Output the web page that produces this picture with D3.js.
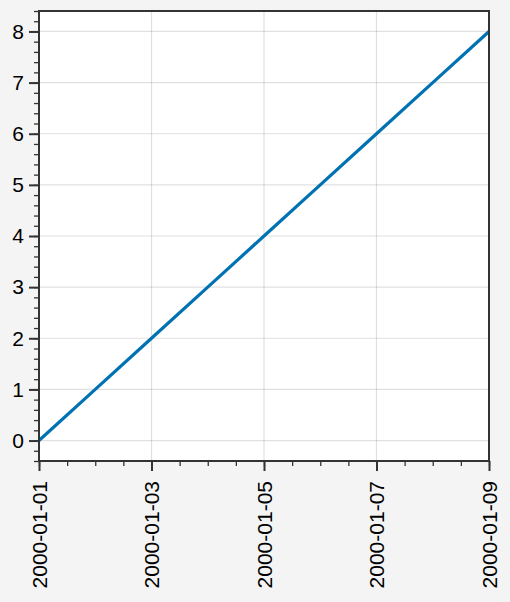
<!DOCTYPE html>
<html>
<head>
<meta charset="utf-8">
<script src="https://cdn.jsdelivr.net/npm/d3@7"></script>
<style>
  body { margin: 0; background: #f4f4f4; }
  #vis svg { display: block; }
</style>
</head>
<body>
<div id="vis"></div>
<script>
const FRAME_WIDTH = 510;
const FRAME_HEIGHT = 602;
const PLOT = {left: 39, right: 489, top: 11, bottom: 461};

// data
const dates = ["2000-01-01", "2000-01-02", "2000-01-03", "2000-01-04", "2000-01-05",
               "2000-01-06", "2000-01-07", "2000-01-08", "2000-01-09"];
const values = [0, 1, 2, 3, 4, 5, 6, 7, 8];
const yTicks = [0, 1, 2, 3, 4, 5, 6, 7, 8];
const xTickLabels = ["2000-01-01", "2000-01-03", "2000-01-05", "2000-01-07", "2000-01-09"];

const parse = d3.utcParse("%Y-%m-%d");
const fmt = d3.utcFormat("%Y-%m-%d");
const points = dates.map((d, i) => ({date: parse(d), value: values[i]}));

const FRAME = d3.select("#vis")
                .append("svg")
                  .attr("width", FRAME_WIDTH)
                  .attr("height", FRAME_HEIGHT)
                  .style("background", "#f4f4f4");

const X_SCALE = d3.scaleUtc()
                  .domain(d3.extent(points, d => d.date))
                  .range([PLOT.left, PLOT.right]);

const Y_SCALE = d3.scaleLinear()
                  .domain([-0.4, 8.4])
                  .range([PLOT.bottom, PLOT.top]);

// white plot area
FRAME.append("rect")
  .attr("x", PLOT.left).attr("y", PLOT.top)
  .attr("width", PLOT.right - PLOT.left)
  .attr("height", PLOT.bottom - PLOT.top)
  .attr("fill", "#ffffff");

const xMajor = xTickLabels.map(parse);
const xMinor = d3.utcHour.every(12).range(X_SCALE.domain()[0], d3.utcHour.offset(X_SCALE.domain()[1], 1));
const yMinor = d3.range(-4, 85, 2).map(v => v / 10);

// grid
const grid = FRAME.append("g").attr("stroke", "#000").attr("stroke-opacity", 0.12).attr("stroke-width", 1.2);
grid.selectAll(".gx").data(xMajor).enter().append("line")
  .attr("x1", d => X_SCALE(d)).attr("x2", d => X_SCALE(d))
  .attr("y1", PLOT.top).attr("y2", PLOT.bottom);
grid.selectAll(".gy").data(yTicks).enter().append("line")
  .attr("x1", PLOT.left).attr("x2", PLOT.right)
  .attr("y1", d => Y_SCALE(d)).attr("y2", d => Y_SCALE(d));

// line
FRAME.append("path")
  .datum(points)
  .attr("fill", "none")
  .attr("stroke", "#0072b2")
  .attr("stroke-width", 3.2)
  .attr("d", d3.line().x(d => X_SCALE(d.date)).y(d => Y_SCALE(d.value)));

// minor ticks
FRAME.append("g")
  .attr("transform", "translate(0," + PLOT.bottom + ")")
  .call(d3.axisBottom(X_SCALE).tickValues(xMinor).tickSize(5).tickFormat(""))
  .call(g => g.select(".domain").remove())
  .selectAll("line").attr("stroke", "#333").attr("stroke-width", 1.3);

FRAME.append("g")
  .attr("transform", "translate(" + PLOT.left + ",0)")
  .call(d3.axisLeft(Y_SCALE).tickValues(yMinor).tickSize(5).tickFormat(""))
  .call(g => g.select(".domain").remove())
  .selectAll("line").attr("stroke", "#333").attr("stroke-width", 1.3);

// major ticks
const xAxis = FRAME.append("g")
  .attr("transform", "translate(0," + PLOT.bottom + ")")
  .call(d3.axisBottom(X_SCALE).tickValues(xMajor).tickSize(10).tickPadding(8).tickFormat(fmt));
xAxis.select(".domain").remove();
xAxis.selectAll("line").attr("stroke", "#333").attr("stroke-width", 2);
xAxis.selectAll("text")
  .attr("font-family", "'Liberation Sans', Arial, sans-serif")
  .attr("font-size", "21px")
  .attr("fill", "#000")
  .attr("transform", "rotate(-90)")
  .attr("text-anchor", "end")
  .attr("x", -20)
  .attr("y", 0)
  .attr("dy", "0.35em");

const yAxis = FRAME.append("g")
  .attr("transform", "translate(" + PLOT.left + ",0)")
  .call(d3.axisLeft(Y_SCALE).tickValues(yTicks).tickSize(10).tickPadding(5));
yAxis.select(".domain").remove();
yAxis.selectAll("line").attr("stroke", "#333").attr("stroke-width", 2);
yAxis.selectAll("text")
  .attr("font-family", "'Liberation Sans', Arial, sans-serif")
  .attr("font-size", "21px")
  .attr("fill", "#000");

// spines
FRAME.append("rect")
  .attr("x", PLOT.left).attr("y", PLOT.top)
  .attr("width", PLOT.right - PLOT.left)
  .attr("height", PLOT.bottom - PLOT.top)
  .attr("fill", "none")
  .attr("stroke", "#333")
  .attr("stroke-width", 2);
</script>
</body>
</html>
